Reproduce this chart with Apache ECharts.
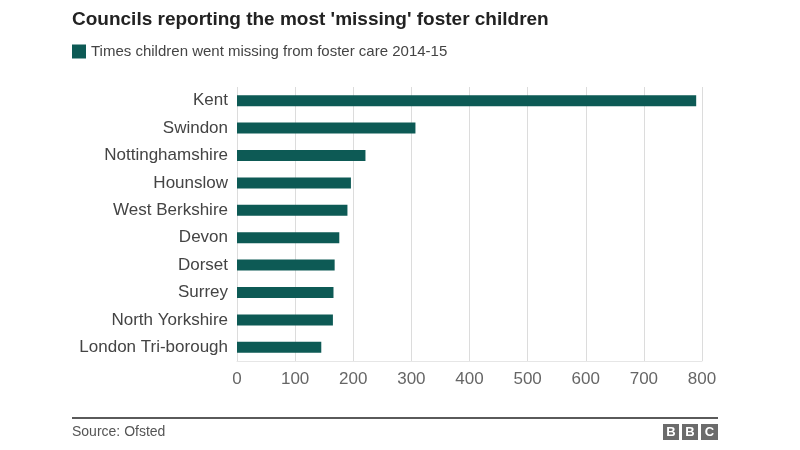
<!DOCTYPE html>
<html>
<head>
<meta charset="utf-8">
<script src="https://cdn.jsdelivr.net/npm/echarts@6/dist/echarts.min.js"></script>
<style>html,body{margin:0;padding:0;background:#fff}#c{width:800px;height:450px}</style>
</head>
<body>
<div id="c"></div>
<script>
const categories = ["Kent","Swindon","Nottinghamshire","Hounslow","West Berkshire","Devon","Dorset","Surrey","North Yorkshire","London Tri-borough"];
const values = [790, 307, 221, 196, 190, 176, 168, 166, 165, 145];
const seriesName = "Times children went missing from foster care 2014-15";
const titleText = "Councils reporting the most 'missing' foster children";
const sourceText = "Source: Ofsted";
const xTicks = [0, 100, 200, 300, 400, 500, 600, 700, 800];

const chart = echarts.init(document.getElementById('c'));
const font = 'Liberation Sans, Arial, sans-serif';
chart.setOption({
  animation: false,
  textStyle: { fontFamily: font },
  title: {
    text: titleText, left: 67, top: 5,
    textStyle: { fontSize: 19, fontWeight: 'bold', color: '#222', fontFamily: font }
  },
  legend: {
    data: [seriesName], left: 67, top: 39, icon: 'rect', itemWidth: 14, itemHeight: 14, itemGap: 6,
    textStyle: { fontSize: 15, color: '#444', fontFamily: font }
  },
  grid: { left: 237, right: 98, top: 87, bottom: 89, containLabel: false },
  xAxis: {
    type: 'value', min: xTicks[0], max: xTicks[xTicks.length - 1], interval: 100,
    axisLine: { show: true, lineStyle: { color: '#e6e6e6' } },
    axisTick: { show: false },
    splitLine: { show: true, lineStyle: { color: '#dcdcdc', width: 1 } },
    axisLabel: { fontSize: 17, color: '#666', margin: 10, fontFamily: font }
  },
  yAxis: {
    type: 'category', data: categories, inverse: true,
    axisLine: { show: false }, axisTick: { show: false },
    axisLabel: { fontSize: 17, color: '#444', margin: 9, fontFamily: font }
  },
  series: [{
    name: seriesName, type: 'bar', data: values, barWidth: 11,
    itemStyle: { color: '#0d5a55' }
  }],
  graphic: [
    { type: 'rect', shape: { x: 72, y: 417, width: 646, height: 2 }, style: { fill: '#5a5a5a' } },
    { type: 'text', x: 72, y: 432, style: { text: sourceText, fontSize: 14, fill: '#555', verticalAlign: 'middle', fontFamily: font } },
    { type: 'rect', shape: { x: 663, y: 424, width: 16, height: 16 }, style: { fill: '#6b6b6b' } },
    { type: 'rect', shape: { x: 682, y: 424, width: 16, height: 16 }, style: { fill: '#6b6b6b' } },
    { type: 'rect', shape: { x: 701, y: 424, width: 17, height: 16 }, style: { fill: '#6b6b6b' } },
    { type: 'text', x: 671, y: 432, style: { text: 'B', fontSize: 13, fontWeight: 'bold', fill: '#fff', align: 'center', verticalAlign: 'middle', fontFamily: font } },
    { type: 'text', x: 690, y: 432, style: { text: 'B', fontSize: 13, fontWeight: 'bold', fill: '#fff', align: 'center', verticalAlign: 'middle', fontFamily: font } },
    { type: 'text', x: 709.5, y: 432, style: { text: 'C', fontSize: 13, fontWeight: 'bold', fill: '#fff', align: 'center', verticalAlign: 'middle', fontFamily: font } }
  ]
});
</script>
</body>
</html>
